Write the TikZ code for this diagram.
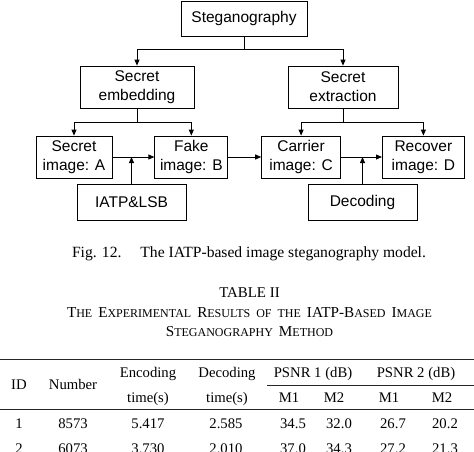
\documentclass[tikz,border=0pt]{standalone}
\usepackage{fontspec}
\setmainfont{Liberation Serif}
\newfontfamily\arialfont{Liberation Sans}
\usetikzlibrary{arrows.meta,positioning}
\newcommand\capsmall[2]{#1{\fontsize{12}{12}\selectfont #2}}
\newcommand\tsp{\hspace{6pt}}

\begin{document}
\begin{tikzpicture}[x=1pt, y=-1pt,
      node distance=30pt and 40pt,
      block/.style={draw=black, line width=0.8pt, minimum height=42pt,
                    inner sep=1pt, align=center,
                    font=\arialfont\fontsize{15.5}{19}\selectfont},
      flow/.style={-{Triangle[length=6pt, width=5pt]}, line width=0.8pt},
      cell/.style={anchor=base, inner sep=0pt, font=\fontsize{14.7}{17}\selectfont},
      tabrule/.style={line width=1pt, draw=black!85}]
    \useasboundingbox (0,0) rectangle (474,451);
    % model diagram
    \node[block, minimum width=126pt, minimum height=35pt] (steg) at (244,18.5) {Steganography};
    \node[block, minimum width=114pt] (embed) at (137,87) {Secret\\embedding};
    \node[block, minimum width=110pt] (extract) at (343,87) {Secret\\extraction};
    \node[block, minimum width=76pt] (imgA) at (74,157) {Secret\\image: A};
    \node[block, minimum width=73pt, right=42pt of imgA] (imgB) {Fake\\image: B};
    \node[block, minimum width=79pt, right=33pt of imgB] (imgC) {Carrier\\image: C};
    \node[block, minimum width=82pt, right=41pt of imgC] (imgD) {Recover\\image: D};
    \node[block, minimum width=109pt, minimum height=36pt] (iatp) at (131.5,202) {IATP\&LSB};
    \node[block, minimum width=109pt, minimum height=36pt] (decode) at (362.5,202) {Decoding};
    \draw[flow] (steg.south) -- ++(0,13) -| (embed.north);
    \draw[flow] (steg.south) -- ++(0,13) -| (extract.north);
    \draw[flow] (embed.south) -- ++(0,14) -| (imgA.north);
    \draw[flow] (embed.south) -- ++(0,14) -| (imgB.north);
    \draw[flow] (extract.south) -- ++(0,14) -| (imgC.north);
    \draw[flow] (extract.south) -- ++(0,14) -| (imgD.north);
    \draw[flow] (imgA) -- (imgB);
    \draw[flow] (imgB) -- (imgC);
    \draw[flow] (imgC) -- (imgD);
    \draw[flow] (iatp.north) -- (iatp.north |- imgA.east);
    \draw[flow] (decode.north) -- (decode.north |- imgC.east);
    % caption and table title
    \node[anchor=base, inner sep=0pt, font=\fontsize{15.6}{18}\selectfont] (figcap) at (249,257)
      {Fig. 12.\hspace{19pt}The IATP-based image steganography model.};
    \node[anchor=base, inner sep=0pt, font=\fontsize{14.9}{17}\selectfont] (tabnum) at (249.5,297.5) {TABLE II};
    \node[anchor=base, inner sep=0pt, font=\fontsize{15.2}{17}\selectfont] (tabtitle) at (249.5,317)
      {\capsmall{T}{HE}\tsp\capsmall{E}{XPERIMENTAL}\tsp\capsmall{R}{ESULTS}\tsp{\fontsize{12}{12}\selectfont OF\tsp THE}\tsp IATP-\capsmall{B}{ASED}\tsp\capsmall{I}{MAGE}};
    \node[anchor=base, inner sep=0pt, font=\fontsize{15.2}{17}\selectfont] (tabtitlb) at (249.5,336)
      {\capsmall{S}{TEGANOGRAPHY}\tsp\capsmall{M}{ETHOD}};
    % table
    \draw[tabrule] (0,359) -- (474,359);
    \draw[line width=0.7pt, draw=black!85] (267,385) -- (474,385);
    \draw[tabrule] (0,409) -- (474,409);
    \node[cell] (hid) at (19,389) {ID};
    \node[cell] (hnum) at (73,389) {Number};
    \node[cell] (henc) at (148,377) {Encoding};
    \node[cell] (henct) at (148,402) {time(s)};
    \node[cell] (hdec) at (227,377) {Decoding};
    \node[cell] (hdect) at (227,402) {time(s)};
    \node[cell] (hpa) at (313,377) {PSNR 1 (dB)};
    \node[cell] (hpb) at (416,377) {PSNR 2 (dB)};
    \foreach \x/\m [count=\i] in {289/M1, 334/M2, 389/M1, 442/M2}
      \node[cell] (hm\i) at (\x,402) {\m};
    \foreach \x/\v [count=\i] in {19/1, 73/8573, 148/5.417, 226/2.585, 293/34.5, 339/32.0, 393/26.7, 445/20.2}
      \node[cell] (ra\i) at (\x,428) {\v};
    \foreach \x/\v [count=\i] in {19/2, 73/6073, 148/3.730, 226/2.010, 293/37.0, 339/34.3, 393/27.2, 445/21.3}
      \node[cell] (rb\i) at (\x,453) {\v};
  \end{tikzpicture}
\end{document}
